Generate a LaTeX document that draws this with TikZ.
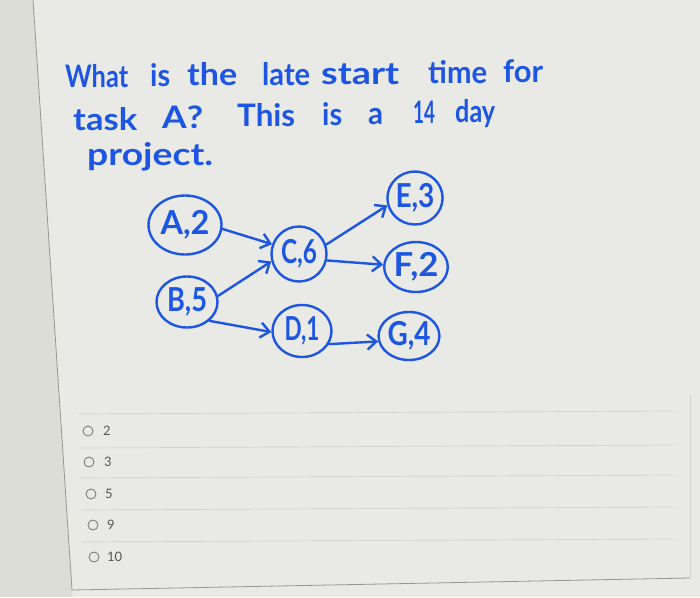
\documentclass[tikz,border=0pt]{standalone}
\usepackage{graphicx}
\usepackage{fontspec}
\setmainfont{Lato}
\usetikzlibrary{shapes.geometric,arrows.meta}
\definecolor{ink}{RGB}{30,86,228}
\definecolor{paper}{RGB}{233,233,229}
\definecolor{margincol}{RGB}{221,221,216}
\definecolor{rulecol}{RGB}{210,210,205}
\definecolor{edgecol}{RGB}{150,150,146}
\definecolor{optgray}{RGB}{125,125,121}
\definecolor{opttext}{RGB}{85,85,82}
\newcommand\hwfont{\fontsize{31}{33}\selectfont\bfseries}
\newcommand\tkfont{\fontsize{33}{35}\selectfont\bfseries}
\newcommand\fitw[2]{\resizebox{#1pt}{\height}{#2}}
\begin{document}
\begin{tikzpicture}[x=1pt,y=-1pt,
  hand/.style={text=ink, font=\hwfont, inner sep=0pt, anchor=base west},
  task/.style={ellipse, draw=ink, line width=2.4pt, inner sep=0pt, text=ink, font=\tkfont},
  link/.style={draw=ink, line width=2.4pt, line cap=round, -{Straight Barb[length=9pt,width=15pt]}},
  opt/.style={circle, draw=optgray, line width=0.9pt, minimum size=10pt, inner sep=0pt},
  optlab/.style={text=opttext, font=\fontsize{13}{15}\selectfont, anchor=west, inner sep=0pt},
  sep/.style={draw=rulecol, line width=0.7pt}]
\useasboundingbox (0,0) rectangle (700,597);
\fill[margincol] (0,0) rectangle (700,597);
\fill[paper] (33,0) -- (700,0) -- (700,597) -- (72.5,597) -- cycle;
\draw[edgecol, line width=0.8pt] (33,0) -- (72,590) -- (690,578);
\draw[rulecol, line width=0.8pt] (690,578) -- (690,395);

% handwritten question
\node[hand] (w1) at (65,87) {\fitw{63}{What}};
\node[hand] (w2) at (150,86) {\fitw{20}{is}};
\node[hand] (w3) at (187,85.7) {\fitw{50}{the}};
\node[hand] (w4) at (262,85) {\fitw{48}{late}};
\node[hand] (w5) at (321,84.3) {\fitw{78}{start}};
\node[hand] (w6) at (428,83.2) {\fitw{59}{time}};
\node[hand] (w7) at (503,82.4) {\fitw{40}{for}};
\node[hand] (w8) at (73,130) {\fitw{64}{task}};
\node[hand] (w9) at (162,128.3) {\fitw{41}{A?}};
\node[hand] (w10) at (237,126.9) {\fitw{58}{This}};
\node[hand] (w11) at (322,125.3) {\fitw{20}{is}};
\node[hand] (w12) at (368,124.4) {\fitw{15}{a}};
\node[hand] (w13) at (413,123.6) {\fitw{22}{14}};
\node[hand] (w14) at (455,122.8) {\fitw{40}{day}};
\node[hand] (w15) at (87,165) {\fitw{126}{project.}};

% network
\node[task, minimum width=73pt, minimum height=59pt] (A) at (185,225) {\fitw{49}{A,2}};
\node[task, minimum width=61pt, minimum height=51pt] (B) at (187,302) {\fitw{40}{B,5}};
\node[task, minimum width=55pt, minimum height=55pt] (C) at (299,254) {\fitw{36}{C,6}};
\node[task, minimum width=59pt, minimum height=52pt] (D) at (302,331) {\fitw{35}{D,1}};
\node[task, minimum width=55pt, minimum height=53pt] (E) at (415,198) {\fitw{39}{E,3}};
\node[task, minimum width=58pt, minimum height=50pt] (F) at (416,267) {\fitw{45}{F,2}};
\node[task, minimum width=58pt, minimum height=48pt] (G) at (409,336) {\fitw{43}{G,4}};

\draw[link] (A.-6) -- (C.160);
\draw[link] (B.11) -- (C.195);
\draw[link] (B.-40) -- (D.182);
\draw[link] (C.19) -- (E.195);
\draw[link] (C.-13) -- (F.176);
\draw[link] (D.-26) -- (G.190);

% answer options
\draw[sep] (78,414) -- (674,411);
\draw[sep] (79,448) -- (674,445);
\draw[sep] (80,478) -- (674,475);
\draw[sep] (81,510) -- (674,507);
\draw[sep] (82,542) -- (674,539);
\node[opt] (o1) at (88,431) {};
\node[opt] (o2) at (89,462) {};
\node[opt] (o3) at (91,494) {};
\node[opt] (o4) at (93,525) {};
\node[opt] (o5) at (94,557) {};
\node[optlab] (l1) at (103,431) {2};
\node[optlab] (l2) at (104,462) {3};
\node[optlab] (l3) at (105,494) {5};
\node[optlab] (l4) at (107,525) {9};
\node[optlab] (l5) at (107,557) {10};
\end{tikzpicture}
\end{document}
